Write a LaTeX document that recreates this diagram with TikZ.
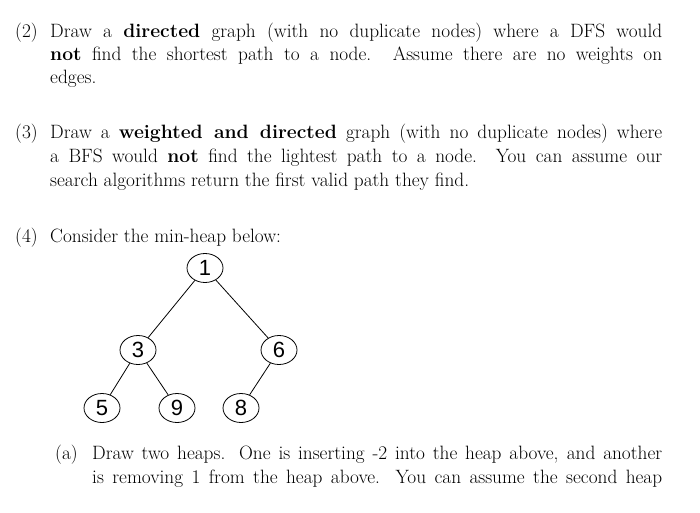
\documentclass[tikz,border=0pt]{standalone}
\usepackage{fontspec}
\setsansfont{Liberation Sans}
\tikzset{ln/.style={anchor=base west,inner sep=0pt,font=\fontsize{19.3}{22}\selectfont},
hn/.style={draw,ellipse,thick,minimum width=36pt,minimum height=29pt,inner sep=0pt,font=\sffamily\fontsize{22}{22}\selectfont},
ed/.style={thick}}
\usetikzlibrary{shapes.geometric}
\newcommand{\fl}[1]{\makebox[612pt][s]{#1}}
\begin{document}
\begin{tikzpicture}[x=1pt,y=-1pt]
\useasboundingbox (0,0) rectangle (700,512);
\node[ln] (p2) at (15,37) {(2)};
\node[ln] (l1) at (50,37) {\fl{Draw a \textbf{directed} graph (with no duplicate nodes) where a DFS would}};
\node[ln] (l2) at (50,60) {\fl{\textbf{not} find the shortest path to a node. Assume there are no weights on}};
\node[ln] (l3) at (50,83) {edges.};
\node[ln] (p3) at (15,138) {(3)};
\node[ln] (l4) at (50,138) {\fl{Draw a \textbf{weighted and directed} graph (with no duplicate nodes) where}};
\node[ln] (l5) at (50,162) {\fl{a BFS would \textbf{not} find the lightest path to a node. You can assume our}};
\node[ln] (l6) at (50,186) {search algorithms return the first valid path they find.};
\node[ln] (p4) at (15,242) {(4)};
\node[ln] (l7) at (50,242) {Consider the min-heap below:};
\node[hn] (n1) at (205,268) {1};
\node[hn] (n3) at (138,350) {3};
\node[hn] (n6) at (279,350) {6};
\node[hn] (n5) at (102,408) {5};
\node[hn] (n9) at (177,408) {9};
\node[hn] (n8) at (241,408) {8};
\draw[ed] (n1) -- (n3);
\draw[ed] (n1) -- (n6);
\draw[ed] (n3) -- (n5);
\draw[ed] (n3) -- (n9);
\draw[ed] (n6) -- (n8);
\node[ln] (pa) at (55,459) {(a)};
\node[ln] (l8) at (92,459) {\makebox[570pt][s]{Draw two heaps. One is inserting -2 into the heap above, and another}};
\node[ln] (l9) at (92,483) {\makebox[570pt][s]{is removing 1 from the heap above. You can assume the second heap}};
\end{tikzpicture}
\end{document}
